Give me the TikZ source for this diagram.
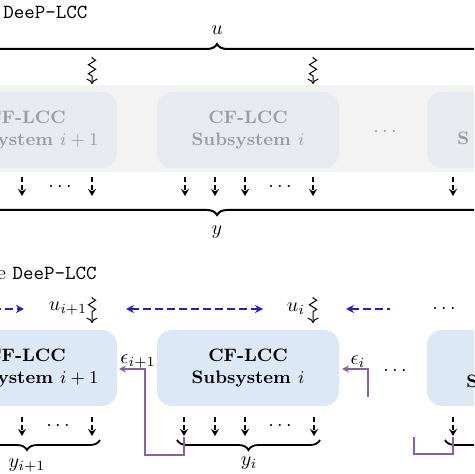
\documentclass[tikz,border=0pt]{standalone}
\usetikzlibrary{decorations.pathmorphing,decorations.pathreplacing,arrows.meta}
\definecolor{bandgray}{HTML}{F3F3F3}
\definecolor{boxgray}{HTML}{E7EAEE}
\definecolor{txtgray}{HTML}{9C9C9C}
\definecolor{boxblue}{HTML}{DCE8F5}
\definecolor{purp}{HTML}{8E5EA2}
\definecolor{dblue}{HTML}{2222B8}
\begin{document}
\begin{tikzpicture}[x=0.5pt,y=-0.5pt,
  sub/.style={rounded corners=7.5pt, minimum width=91pt, minimum height=38pt, inner sep=0pt, font=\small\bfseries, align=center},
  subgray/.style={sub, fill=boxgray, text=txtgray},
  subblue/.style={sub, fill=boxblue},
  outarrow/.style={-{Stealth[length=3.5pt,width=4pt]}, dash pattern=on 2.5pt off 1.5pt, line width=0.6pt},
  snakearrow/.style={->, decorate, decoration={zigzag, amplitude=1.8pt, segment length=4.5pt, pre length=0.5pt, post length=4pt}, line width=0.5pt},
  bluearrow/.style={dblue, line width=0.8pt, dash pattern=on 4pt off 2pt},
  bracestyle/.style={decorate, decoration={brace, amplitude=5pt}},
  fb/.style={purp, line width=0.6pt},
  lbl/.style={inner sep=0pt}
]
\useasboundingbox (0,0) rectangle (474,474);
\clip (0,0) rectangle (474,474);

% ---------- top part ----------
\node[lbl, anchor=west] (ttitle) at (3,12) {\texttt{DeeP-LCC}};

\coordinate (ua) at (-200,54);
\coordinate (ub) at (634,54);
\draw[bracestyle, line width=1pt] (ua) -- (ub);
\node[lbl] (ulbl) at (217,30) {$u$};

\fill[bandgray] (0,85) rectangle (474,172);

\node[subgray] (tb1) at (26,130) {CF-LCC\\Subsystem $i+1$};
\node[subgray] (tb2) at (248,130) {CF-LCC\\Subsystem $i$};
\node[subgray, minimum width=91pt] (tb3) at (518,130) {};
\node[lbl, anchor=west, font=\small\bfseries, text=txtgray] (tS) at (457,138) {S};
\node[lbl, text=txtgray] (tdots) at (385,132) {$\cdots$};

\coordinate (ts1a) at (92,57);  \coordinate (ts1b) at (92,84);
\coordinate (ts2a) at (313,57); \coordinate (ts2b) at (313,84);
\draw[snakearrow] (ts1a) -- (ts1b);
\draw[snakearrow] (ts2a) -- (ts2b);

\foreach \x [count=\i] in {22,92,185,215,245,313,453} {
  \coordinate (to\i a) at (\x,177);
  \coordinate (to\i b) at (\x,196);
  \draw[outarrow] (to\i a) -- (to\i b);
}
\node[lbl] (td1) at (60,187) {$\cdots$};
\node[lbl] (td2) at (280,187) {$\cdots$};

\coordinate (ya) at (534,205);
\coordinate (yb) at (-100,205);
\draw[bracestyle, line width=1pt] (ya) -- (yb);
\node[lbl] (ylbl) at (217,232) {$y$};

% ---------- bottom part ----------
\node[lbl, anchor=east] (btitle) at (97,273) {e \texttt{DeeP-LCC}};

\coordinate (ba1) at (-60,309); \coordinate (ba2) at (24,309);
\coordinate (ba3) at (126,309); \coordinate (ba4) at (263,309);
\coordinate (ba5) at (346,309); \coordinate (ba6) at (390,309);
\draw[bluearrow, {Stealth[length=4pt,width=4pt]}-{Stealth[length=4pt,width=4pt]}] (ba1) -- (ba2);
\draw[bluearrow, {Stealth[length=4pt,width=4pt]}-{Stealth[length=4pt,width=4pt]}] (ba3) -- (ba4);
\draw[bluearrow, {Stealth[length=4pt,width=4pt]}-] (ba5) -- (ba6);
\node[lbl] (bdots0) at (444,309) {$\cdots$};

\node[lbl] (u1lbl) at (68,309) {$u_{i+1}$};
\node[lbl] (u2lbl) at (296,309) {$u_{i}$};
\coordinate (bs1a) at (92,297);  \coordinate (bs1b) at (92,323);
\coordinate (bs2a) at (313,297); \coordinate (bs2b) at (313,323);
\draw[snakearrow] (bs1a) -- (bs1b);
\draw[snakearrow] (bs2a) -- (bs2b);

\node[subblue] (bb1) at (26,368) {CF-LCC\\Subsystem $i+1$};
\node[subblue] (bb2) at (248,368) {CF-LCC\\Subsystem $i$};
\node[subblue] (bb3) at (518,368) {};
\node[lbl, anchor=west, font=\small\bfseries] (bS) at (466,381) {S};
\node[lbl] (bdots1) at (395,371) {$\cdots$};

\foreach \x [count=\i] in {22,92,184,215,245,314,453} {
  \coordinate (bo\i a) at (\x,417);
  \coordinate (bo\i b) at (\x,436);
  \draw[outarrow] (bo\i a) -- (bo\i b);
}
\node[lbl] (bd1) at (58,426) {$\cdots$};
\node[lbl] (bd2) at (280,426) {$\cdots$};

% braces y_{i+1}, y_i, next
\coordinate (yi1a) at (100,440); \coordinate (yi1b) at (-46,440);
\coordinate (yi2a) at (320,440); \coordinate (yi2b) at (177,440);
\coordinate (yi3a) at (588,440); \coordinate (yi3b) at (445,440);
\draw[bracestyle, line width=0.9pt] (yi1a) -- (yi1b);
\draw[bracestyle, line width=0.9pt] (yi2a) -- (yi2b);
\draw[bracestyle, line width=0.9pt] (yi3a) -- (yi3b);
\node[lbl] (yi1lbl) at (27,466) {$y_{i+1}$};
\node[lbl] (yi2lbl) at (249,463) {$y_{i}$};

% feedback lines
\coordinate (f1a) at (184,437); \coordinate (f1b) at (145,455);
\coordinate (f1c) at (145,369); \coordinate (f1d) at (119,369);
\draw[fb, -{Stealth[length=3.5pt,width=3.5pt]}] (f1a) |- (f1b) -- (f1c) -- (f1d);
\node[lbl] (e1lbl) at (138,362) {$\epsilon_{i+1}$};

\coordinate (f2a) at (368,397); \coordinate (f2b) at (368,369);
\coordinate (f2c) at (342,369);
\draw[fb, -{Stealth[length=3.5pt,width=3.5pt]}] (f2a) -- (f2b) -- (f2c);
\node[lbl] (e2lbl) at (358,362) {$\epsilon_{i}$};

\coordinate (f3a) at (453,437); \coordinate (f3b) at (414,454);
\coordinate (f3c) at (414,437);
\draw[fb] (f3a) |- (f3b) -- (f3c);
\end{tikzpicture}
\end{document}
